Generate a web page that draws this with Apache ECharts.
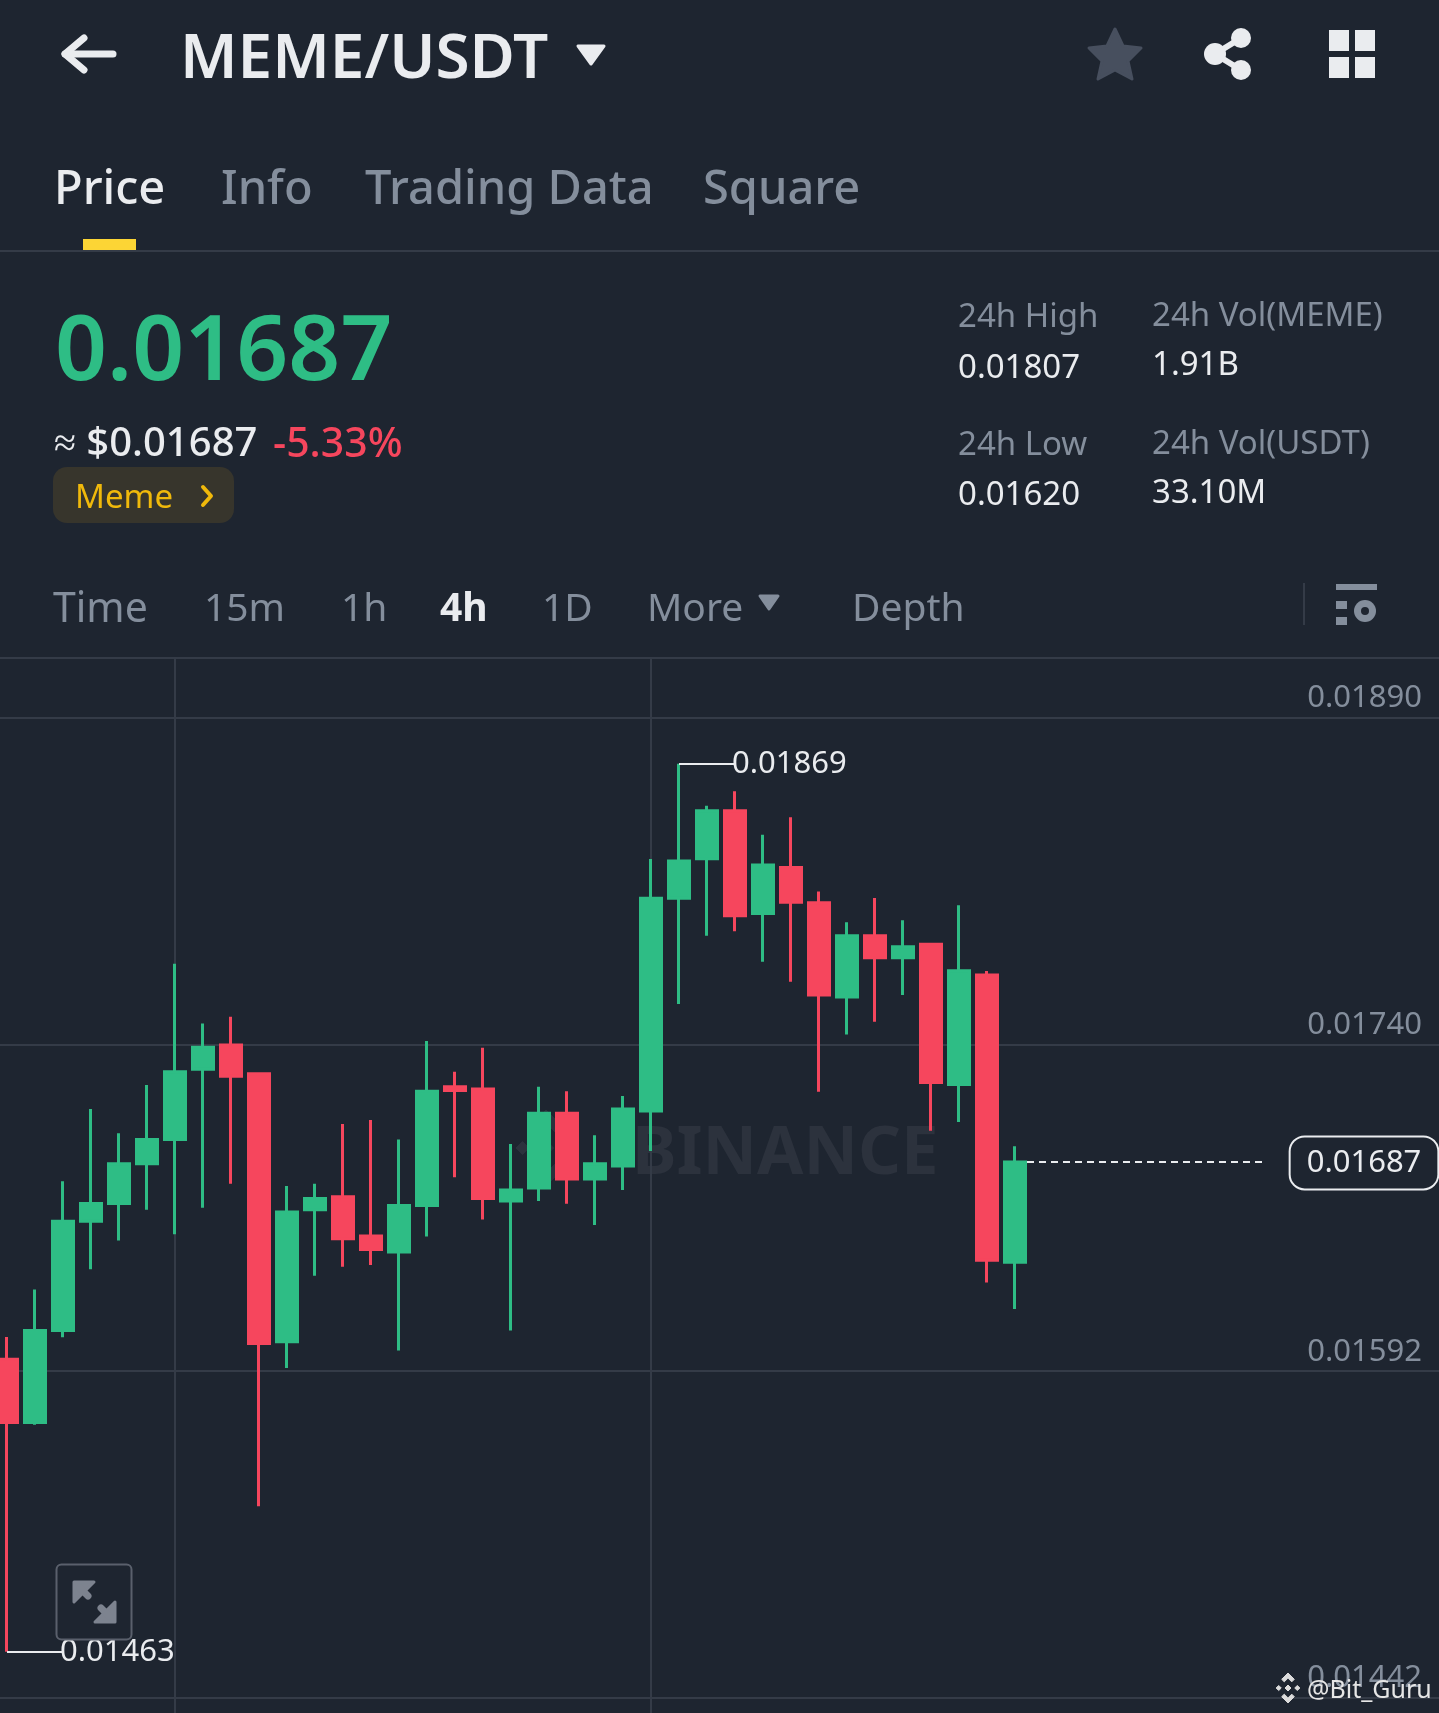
<!DOCTYPE html>
<html>
<head>
<meta charset="utf-8">
<title>MEME/USDT</title>
<script src="https://cdn.jsdelivr.net/npm/echarts@6/dist/echarts.min.js"></script>
<style>
    html, body { margin: 0; padding: 0; background: #1e2530; }
    #chart { width: 1439px; height: 1713px; }
</style>
</head>
<body>
<div id="chart"></div>
<script>
// candles, oldest first
var opens = [0.015968, 0.015678, 0.016099, 0.016599, 0.016680, 0.016862, 0.016972, 0.017293, 0.017405, 0.017273, 0.016047, 0.016651, 0.016711, 0.016531, 0.016458, 0.016671, 0.017213, 0.017203, 0.016691, 0.016751, 0.017092, 0.016792, 0.016851, 0.017103, 0.018076, 0.018256, 0.018476, 0.018006, 0.018216, 0.018055, 0.017624, 0.017904, 0.017803, 0.017865, 0.017224, 0.017724, 0.016411];
var closes = [0.015678, 0.016099, 0.016599, 0.016680, 0.016862, 0.016972, 0.017282, 0.017394, 0.017262, 0.016040, 0.016641, 0.016702, 0.016518, 0.016469, 0.016671, 0.017193, 0.017196, 0.016702, 0.016741, 0.017092, 0.016792, 0.016861, 0.017112, 0.018076, 0.018246, 0.018476, 0.017996, 0.018227, 0.018057, 0.017633, 0.017904, 0.017803, 0.017854, 0.017233, 0.017744, 0.016420, 0.016870];
var lows = [0.014630, 0.015668, 0.016068, 0.016379, 0.016511, 0.016651, 0.016539, 0.016660, 0.016770, 0.015295, 0.015928, 0.016349, 0.016390, 0.016399, 0.016007, 0.016529, 0.016800, 0.016607, 0.016099, 0.016691, 0.016679, 0.016581, 0.016741, 0.016920, 0.017592, 0.017904, 0.017924, 0.017785, 0.017694, 0.017191, 0.017452, 0.017511, 0.017633, 0.017012, 0.017052, 0.016318, 0.016197];
var highs = [0.016069, 0.016287, 0.016781, 0.017112, 0.017001, 0.017222, 0.017776, 0.017503, 0.017534, 0.017273, 0.016760, 0.016770, 0.017043, 0.017061, 0.016972, 0.017423, 0.017282, 0.017392, 0.016952, 0.017213, 0.017193, 0.016992, 0.017171, 0.018255, 0.018690, 0.018498, 0.018565, 0.018366, 0.018446, 0.018106, 0.017966, 0.018077, 0.017975, 0.017865, 0.018044, 0.017743, 0.016942];

var futureSlots = 15;
var yTickValues = [0.0189, 0.017407, 0.015913, 0.01442];
var yTickLabels = ['0.01890', '0.01740', '0.01592', '0.01442'];
var gridCandles = [6, 23];

var highIndex = 24;
var lowIndex = 0;
var highPrice = 0.01869;
var lowPrice = 0.01463;
var lastIndex = 36;
var lastPrice = 0.01687;

var pairName = 'MEME/USDT';
var tabNames = ['Price', 'Info', 'Trading Data', 'Square'];
var intervalNames = ['Time', '15m', '1h', '4h', '1D', 'More', 'Depth'];
var statLabels = ['24h High', '24h Vol(MEME)', '24h Low', '24h Vol(USDT)'];
var statValues = ['0.01807', '1.91B', '0.01620', '33.10M'];

var bg = '#1e2530';
var up = '#2ebd85';
var down = '#f6465d';
var line = '#343b47';
var muted = '#848e9c';
var white = '#eaecef';
var font = '"Noto Sans"';

var categories = [];
for (var n = 0; n < opens.length + futureSlots; n++) {
    categories.push('c' + n);
}

var candles = opens.map(function (open, i) {
    return [open, closes[i], lows[i], highs[i]];
});

function text(x, y, str, size, color, weight, align) {
    return {
        type: 'text',
        x: x,
        y: y,
        z: 10,
        silent: true,
        style: {
            text: str,
            fill: color,
            fontSize: size,
            fontFamily: font,
            fontWeight: weight || 400,
            textAlign: align || 'left',
            textVerticalAlign: 'middle'
        }
    };
}

function rect(x, y, w, h, color, r) {
    return {
        type: 'rect',
        z: 10,
        silent: true,
        shape: {x: x, y: y, width: w, height: h, r: r || 0},
        style: {fill: color}
    };
}

function poly(points, color) {
    return {
        type: 'polygon',
        z: 10,
        silent: true,
        shape: {points: points},
        style: {fill: color, stroke: color, lineWidth: 3, lineJoin: 'round'}
    };
}

function stroke(points, color, width) {
    return {
        type: 'polyline',
        z: 10,
        silent: true,
        shape: {points: points},
        style: {fill: null, stroke: color, lineWidth: width, lineCap: 'round', lineJoin: 'round'}
    };
}

function dot(x, y, r, color) {
    return {
        type: 'circle',
        z: 10,
        silent: true,
        shape: {cx: x, cy: y, r: r},
        style: {fill: color}
    };
}

// binance diamond, used for both watermarks
function logo(cx, cy, s, color, z) {
    var parts = [
        [[0, -1], [0.42, -0.58], [0.25, -0.41], [0, -0.66], [-0.25, -0.41], [-0.42, -0.58]],
        [[0, 1], [0.42, 0.58], [0.25, 0.41], [0, 0.66], [-0.25, 0.41], [-0.42, 0.58]],
        [[0, -0.2], [0.2, 0], [0, 0.2], [-0.2, 0]],
        [[-0.62, -0.17], [-0.45, 0], [-0.62, 0.17], [-0.79, 0]],
        [[0.62, -0.17], [0.79, 0], [0.62, 0.17], [0.45, 0]]
    ];
    return parts.map(function (part) {
        return {
            type: 'polygon',
            z: z,
            silent: true,
            shape: {points: part.map(function (p) { return [cx + p[0] * s, cy + p[1] * s]; })},
            style: {fill: color, stroke: color, lineWidth: 1}
        };
    });
}

var watermarkText = text(632, 1155, 'BINANCE', 67, '#2c323d', 700);
watermarkText.z = 0;

var elements = [
    watermarkText,

    // top bar
    stroke([[84, 38], [65, 54], [84, 70]], white, 7),
    stroke([[65, 54], [113, 54]], white, 7),
    text(180, 60, pairName, 62, white, 600),
    poly([[578, 46], [604, 46], [591, 64]], white),
    poly([[1115, 29], [1123, 46], [1141, 48], [1128, 61], [1132, 79], [1115, 70], [1098, 79], [1102, 61], [1089, 48], [1107, 46]], '#474f5e'),
    stroke([[1241, 38], [1215, 54], [1241, 70]], white, 6),
    dot(1241, 38, 10, white),
    dot(1215, 54, 11, white),
    dot(1241, 70, 10, white),
    rect(1329, 30, 20, 21, white),
    rect(1355, 30, 20, 21, white),
    rect(1329, 57, 20, 21, white),
    rect(1355, 57, 20, 21, white),

    // tabs
    text(54, 191, tabNames[0], 47, white, 500),
    text(221, 191, tabNames[1], 47, muted, 500),
    text(365, 191, tabNames[2], 47, muted, 500),
    text(703, 191, tabNames[3], 47, muted, 500),
    rect(83, 239, 53, 11, '#fcd535'),
    rect(0, 250, 1439, 2, line),

    // price block
    text(55, 354, '0.01687', 91, up, 600),
    text(54, 445, '≈ $0.01687', 40, white, 500),
    text(273, 445, '-5.33%', 41, down, 500),
    rect(53, 467, 181, 56, '#37352c', 14),
    text(75, 499, 'Meme', 33, '#f0b90b', 400),
    stroke([[203, 487], [211, 496], [203, 505]], '#f0b90b', 4),

    text(958, 318, statLabels[0], 33, muted),
    text(1152, 317, statLabels[1], 33, muted),
    text(958, 369, statValues[0], 33, white),
    text(1152, 366, statValues[1], 33, white),
    text(958, 446, statLabels[2], 33, muted),
    text(1152, 445, statLabels[3], 33, muted),
    text(958, 496, statValues[2], 33, white),
    text(1152, 494, statValues[3], 33, white),

    // interval row
    text(53, 610, intervalNames[0], 41, muted),
    text(204, 610, intervalNames[1], 39, muted),
    text(341, 610, intervalNames[2], 39, muted),
    text(440, 610, intervalNames[3], 39, white, 700),
    text(542, 610, intervalNames[4], 39, muted),
    text(647, 610, intervalNames[5], 39, muted),
    poly([[760, 596], [778, 596], [769, 609]], muted),
    text(852, 610, intervalNames[6], 39, muted),
    rect(1303, 583, 2, 42, line),
    rect(1336, 584, 41, 6, muted),
    rect(1336, 601, 11, 8, muted),
    rect(1336, 617, 11, 8, muted),
    dot(1365, 611, 11, muted),
    dot(1365, 611, 4, bg),
    rect(0, 657, 1439, 2, line),

    // fullscreen button
    {
        type: 'rect',
        z: 10,
        silent: true,
        shape: {x: 56.5, y: 1564.5, width: 75, height: 75, r: 5},
        style: {fill: 'transparent', stroke: '#5a606c', lineWidth: 2}
    },
    poly([[74, 1582], [94, 1582], [74, 1602]], '#7d838f'),
    stroke([[80, 1588], [88, 1596]], '#7d838f', 7),
    poly([[115, 1622], [95, 1622], [115, 1602]], '#7d838f'),
    stroke([[109, 1616], [101, 1608]], '#7d838f', 7),

    // corner credit
    text(1307, 1691, '@Bit_Guru', 25, '#e6e6e6')
].concat(logo(546, 1148, 38, '#2c323d', 0), logo(1288, 1688, 15, '#dcdcdc', 10));

var myChart = echarts.init(document.getElementById('chart'));

myChart.setOption({
    backgroundColor: bg,
    animation: false,
    textStyle: {fontFamily: font},
    grid: {left: -7, top: 658, width: 1456, height: 1055, outerBoundsMode: 'none'},
    xAxis: {
        type: 'category',
        data: categories,
        axisLine: {show: false},
        axisTick: {show: false},
        axisLabel: {show: false},
        splitLine: {show: false}
    },
    yAxis: {
        type: 'value',
        position: 'right',
        min: 0.01435,
        max: 0.019174,
        axisLine: {show: false},
        axisTick: {show: false, customValues: yTickValues},
        splitLine: {show: true, lineStyle: {color: line, width: 2}},
        axisLabel: {
            inside: true,
            margin: 27,
            customValues: yTickValues,
            verticalAlign: 'bottom',
            padding: [0, 0, 4, 0],
            color: muted,
            fontSize: 31,
            fontFamily: font,
            formatter: function (value) {
                return yTickLabels[yTickValues.indexOf(value)];
            }
        }
    },
    graphic: {elements: elements},
    series: [
        {
            // underlay, so the guides stay behind the candles
            type: 'line',
            data: [],
            z: 1,
            silent: true,
            markLine: {
                z: 1,
                silent: true,
                symbol: 'none',
                label: {show: false},
                data: gridCandles.map(function (i) {
                    return {xAxis: i, lineStyle: {color: line, width: 2, type: 'solid'}};
                }).concat([[
                    {coord: [lastIndex, lastPrice], lineStyle: {color: white, width: 2, type: [7, 5]}},
                    {coord: [lastIndex + 9.2, lastPrice]}
                ]])
            }
        },
        {
            type: 'candlestick',
            data: candles,
            z: 2,
            barWidth: 21,
            itemStyle: {
                color: up,
                color0: down,
                borderColor: up,
                borderColor0: down,
                borderWidth: 3
            },
            markLine: {
                silent: true,
                symbol: 'none',
                lineStyle: {color: white, width: 2, type: 'solid'},
                label: {
                    position: 'end',
                    distance: -3,
                    color: white,
                    fontSize: 31,
                    fontFamily: font,
                    formatter: function (p) {
                        return p.value.toFixed(5);
                    }
                },
                data: [
                    [{coord: [highIndex, highPrice], value: highPrice}, {coord: [highIndex + 2, highPrice]}],
                    [{coord: [lowIndex, lowPrice], value: lowPrice}, {coord: [lowIndex + 2, lowPrice]}]
                ]
            },
            markPoint: {
                silent: true,
                symbol: 'rect',
                symbolSize: 1,
                itemStyle: {color: 'transparent'},
                data: [{
                    coord: [lastIndex + 12, lastPrice],
                    value: lastPrice,
                    label: {
                        show: true,
                        position: 'inside',
                        offset: [13, 1],
                        formatter: function (p) {
                            return p.value.toFixed(5);
                        },
                        color: white,
                        fontSize: 31,
                        fontFamily: font,
                        backgroundColor: bg,
                        borderColor: white,
                        borderWidth: 2,
                        borderRadius: 14,
                        padding: [12, 16, 8, 16]
                    }
                }]
            }
        }
    ]
});
</script>
</body>
</html>
